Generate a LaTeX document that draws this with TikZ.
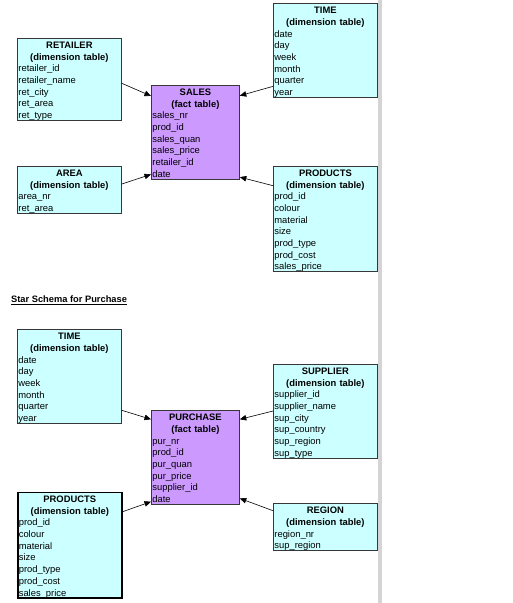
\documentclass[tikz,border=0pt]{standalone}
\usepackage{fontspec}
\setmainfont{Liberation Sans}
\usetikzlibrary{arrows.meta}
\definecolor{dimfill}{RGB}{204,255,255}
\definecolor{factfill}{RGB}{204,153,255}
\definecolor{edgegray}{RGB}{55,55,55}
\definecolor{stripgray}{RGB}{212,212,212}
\newcommand{\hd}[2]{\makebox[#1][c]{\bfseries #2}}
\newcommand{\topstrut}{\rule{0pt}{9.9pt}}
\newcommand{\botstrut}{\rule[-1.8pt]{0pt}{1.8pt}}
\newcommand{\dimhead}[1]{\topstrut\hd{102pt}{#1}\\\hd{102pt}{(dimension table)}\\}
\newcommand{\facthead}[1]{\topstrut\hd{86pt}{#1}\\\hd{86pt}{(fact table)}\\}
\begin{document}
\begin{tikzpicture}[x=1pt,y=-1pt,
  tbl/.style={draw=edgegray, line width=0.8pt, anchor=north west, inner xsep=1pt, inner ysep=0pt, align=left, font=\fontsize{9.4}{11.7}\selectfont},
  dim/.style={tbl, fill=dimfill, text width=102pt, minimum height=#1},
  fact/.style={tbl, fill=factfill, text width=86pt, minimum height=92.9pt},
  link/.style={line width=0.6pt, -{Triangle[length=6.5pt,width=5.5pt]}}]
\useasboundingbox[fill=white] (0,0) rectangle (512,603);
\fill[stripgray] (378,0) rectangle (382,603);

% ---- Sales star ----
\node[dim=81.2pt] (retailer) at (17,38) {\dimhead{RETAILER}retailer\_id\\retailer\_name\\ret\_city\\ret\_area\\ret\_type\botstrut};
\node[fact] (sales) at (151,85) {\facthead{SALES}sales\_nr\\prod\_id\\sales\_quan\\sales\_price\\retailer\_id\\date\botstrut};
\node[dim=46.1pt] (area) at (17,166) {\dimhead{AREA}area\_nr\\ret\_area\botstrut};
\node[dim=92.9pt] (time1) at (273,3.3) {\dimhead{TIME}date\\day\\week\\month\\quarter\\year\botstrut};
\node[dim=104.6pt] (products1) at (273,166) {\dimhead{PRODUCTS}prod\_id\\colour\\material\\size\\prod\_type\\prod\_cost\\sales\_price\botstrut};

\draw[link] ([yshift=-45.3pt]retailer.north east) -- ([yshift=-11pt]sales.north west);
\draw[link] ([yshift=-18pt]area.north east) -- ([yshift=5pt]sales.south west);
\draw[link] ([yshift=11.5pt]time1.south west) -- ([yshift=-10.7pt]sales.north east);
\draw[link] ([yshift=-19.7pt]products1.north west) -- ([yshift=2.3pt]sales.south east);

% ---- Purchase star ----
\node[font=\bfseries\fontsize{9.3}{11}\selectfont, anchor=west, inner sep=0pt] (title) at (11,300.5) {\underline{Star Schema for Purchase}};

\node[dim=92.9pt] (time2) at (17,329.3) {\dimhead{TIME}date\\day\\week\\month\\quarter\\year\botstrut};
\node[fact] (purchase) at (151,410.3) {\facthead{PURCHASE}pur\_nr\\prod\_id\\pur\_quan\\pur\_price\\supplier\_id\\date\botstrut};
\node[dim=104.6pt, draw=black, line width=1.6pt] (products2) at (17,491.7) {\dimhead{PRODUCTS}prod\_id\\colour\\material\\size\\prod\_type\\prod\_cost\\sales\_price\botstrut};
\node[dim=92.9pt] (supplier) at (273,364) {\dimhead{SUPPLIER}supplier\_id\\supplier\_name\\sup\_city\\sup\_country\\sup\_region\\sup\_type\botstrut};
\node[dim=46.1pt] (region) at (273,503.3) {\dimhead{REGION}region\_nr\\sup\_region\botstrut};

\draw[link] ([yshift=-81pt]time2.north east) -- ([yshift=-9pt]purchase.north west);
\draw[link] ([yshift=-47pt]supplier.north west) -- ([yshift=-9pt]purchase.north east);
\draw[link] ([yshift=-20pt]products2.north east) -- ([yshift=3pt]purchase.south west);
\draw[link] ([yshift=-7.4pt]region.north west) -- ([yshift=6.3pt]purchase.south east);
\end{tikzpicture}
\end{document}
